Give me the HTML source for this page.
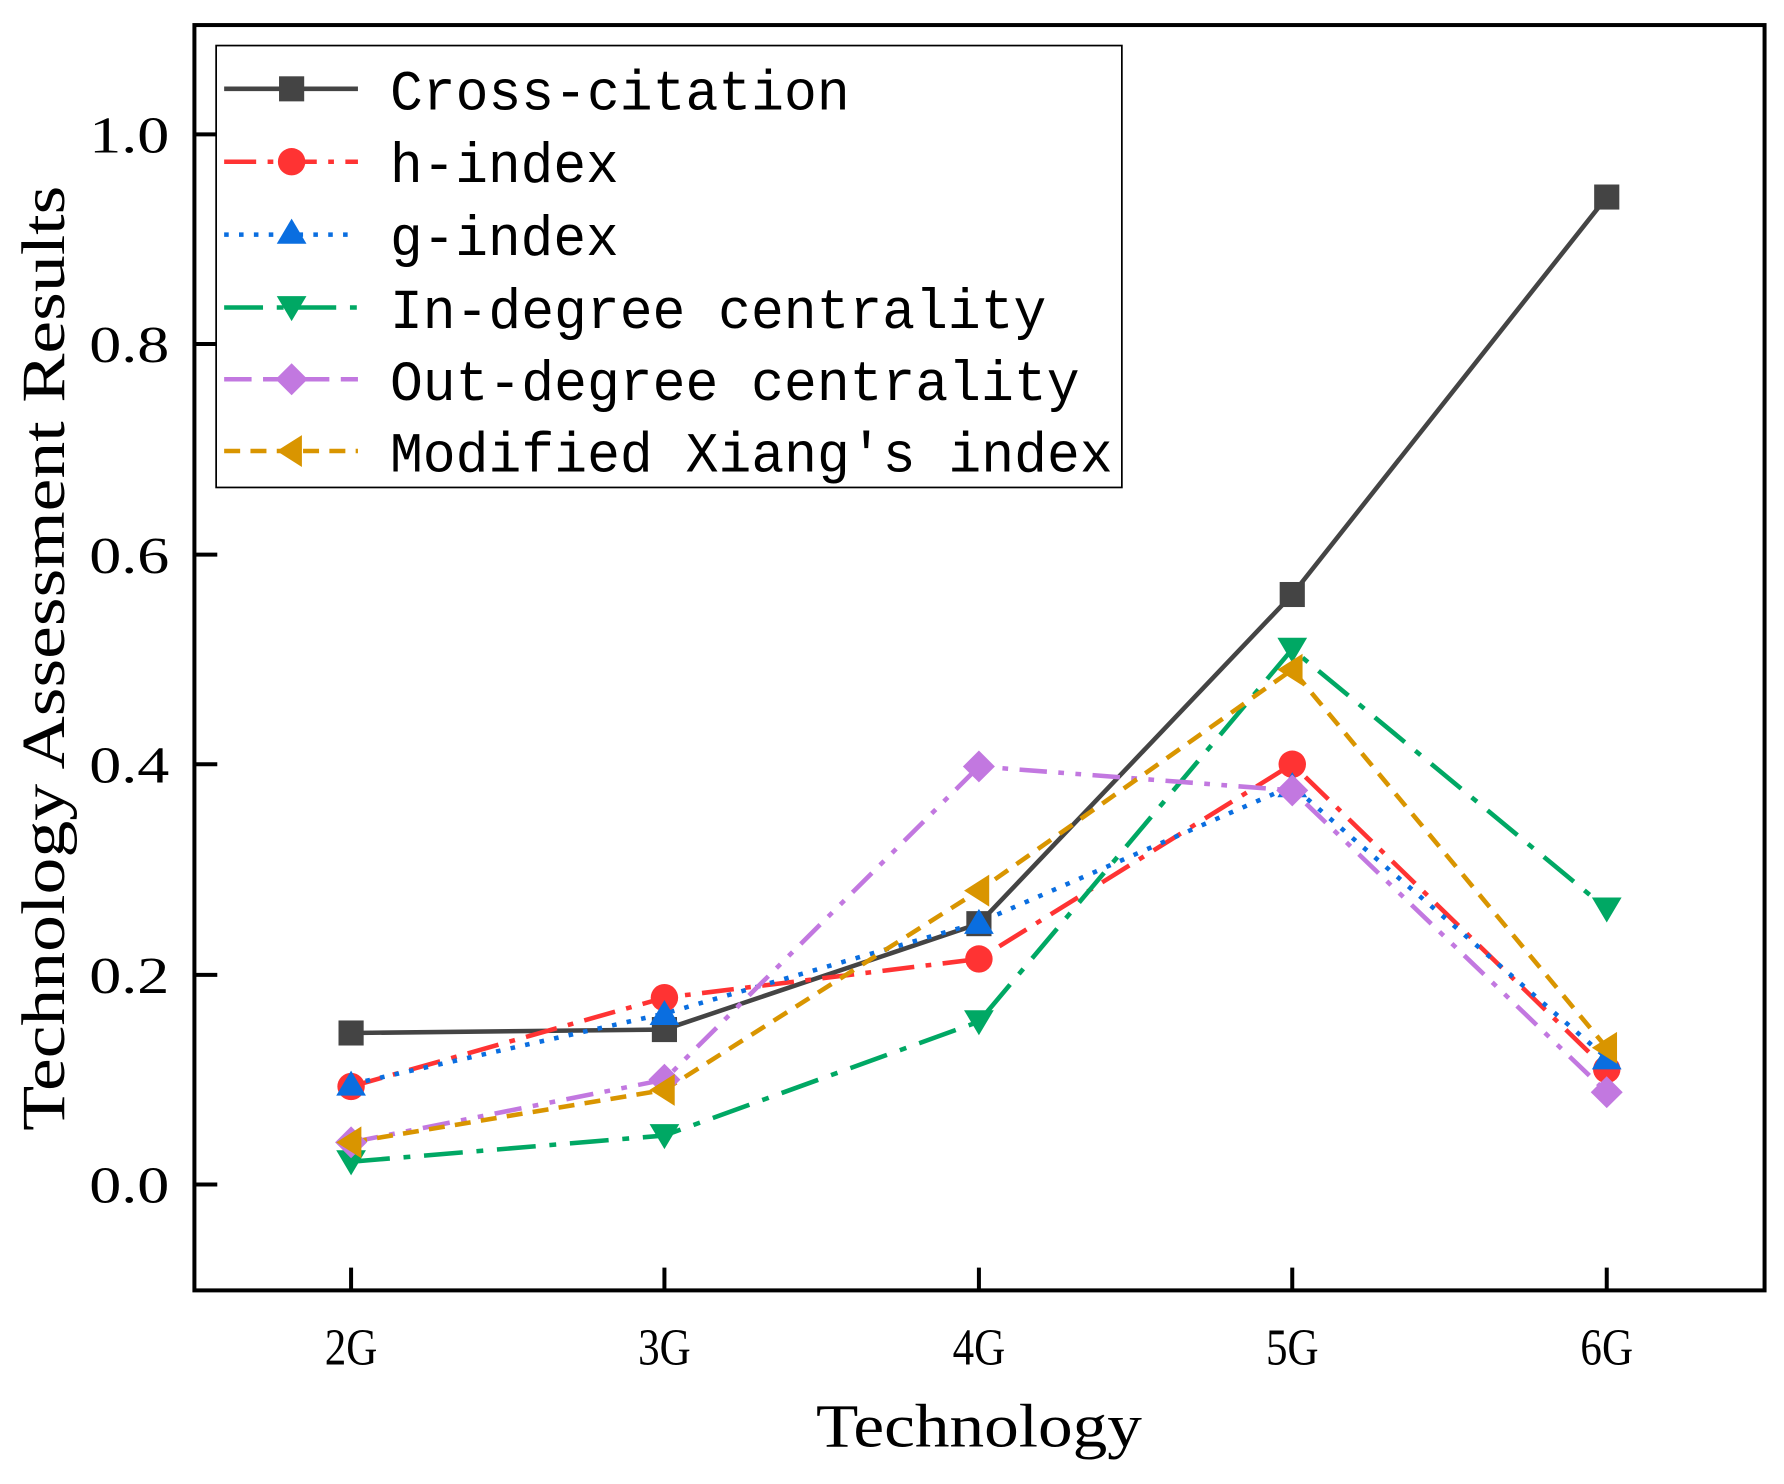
<!DOCTYPE html>
<html><head><style>html,body{margin:0;padding:0;background:#fff}svg{display:block}</style></head>
<body>
<svg width="1784" height="1484" viewBox="0 0 1560 1303" preserveAspectRatio="none" xmlns="http://www.w3.org/2000/svg" font-family="'Liberation Serif', serif">
<rect x="0" y="0" width="1560" height="1303" fill="#fff"/>
<g fill="none" stroke-width="4">
<polyline stroke="#444" points="307,907 581,904 856,811 1130,522 1405,173"/>
<polyline stroke="#f33" stroke-dasharray="28,10,5,10" points="307,954 581,876 856,842 1130,671 1405,939"/>
<polyline stroke="#0a6ee0" stroke-dasharray="4,9" points="307,952 581,890 856,810 1130,690 1405,929"/>
<polyline stroke="#00a864" stroke-dasharray="34,12,6,12" points="307,1020 581,997 856,897 1130,570 1405,798"/>
<polyline stroke="#c278e0" stroke-dasharray="24,10,5,10,5,10" points="307,1003 581,948 856,673 1130,694 1405,959"/>
<polyline stroke="#d99500" stroke-dasharray="14,9" points="307,1003 581,957 856,782 1130,588 1405,920"/>
</g>
<g fill="#444"><rect x="296" y="896" width="22" height="22"/><rect x="570" y="893" width="22" height="22"/><rect x="845" y="800" width="22" height="22"/><rect x="1119" y="511" width="22" height="22"/><rect x="1394" y="162" width="22" height="22"/></g>
<g fill="#f33"><circle cx="307" cy="954" r="12"/><circle cx="581" cy="876" r="12"/><circle cx="856" cy="842" r="12"/><circle cx="1130" cy="671" r="12"/><circle cx="1405" cy="939" r="12"/></g>
<g fill="#0a6ee0"><path d="M307,940 l13,22 h-26z M581,878 l13,22 h-26z M856,798 l13,22 h-26z M1130,678 l13,22 h-26z M1405,917 l13,22 h-26z"/></g>
<g fill="#00a864"><path d="M307,1032 l13,-22 h-26z M581,1009 l13,-22 h-26z M856,909 l13,-22 h-26z M1130,582 l13,-22 h-26z M1405,810 l13,-22 h-26z"/></g>
<g fill="#c278e0"><path d="M307,989 l14,14 -14,14 -14,-14z M581,934 l14,14 -14,14 -14,-14z M856,659 l14,14 -14,14 -14,-14z M1130,680 l14,14 -14,14 -14,-14z M1405,945 l14,14 -14,14 -14,-14z"/></g>
<g fill="#d99500"><path d="M294,1003 l22,-14 v28z M568,957 l22,-14 v28z M843,782 l22,-14 v28z M1117,588 l22,-14 v28z M1392,920 l22,-14 v28z"/></g>
<rect x="170" y="22" width="1373" height="1111" fill="none" stroke="#000" stroke-width="3.5"/>
<g stroke="#000" stroke-width="3.5">
<line x1="307" y1="1133" x2="307" y2="1113"/><line x1="581" y1="1133" x2="581" y2="1113"/><line x1="856" y1="1133" x2="856" y2="1113"/><line x1="1130" y1="1133" x2="1130" y2="1113"/><line x1="1405" y1="1133" x2="1405" y2="1113"/>
<line x1="170" y1="1040" x2="190" y2="1040"/><line x1="170" y1="856" x2="190" y2="856"/><line x1="170" y1="671" x2="190" y2="671"/><line x1="170" y1="487" x2="190" y2="487"/><line x1="170" y1="302" x2="190" y2="302"/><line x1="170" y1="118" x2="190" y2="118"/>
</g>
<g font-size="46" text-anchor="end" lengthAdjust="spacingAndGlyphs">
<text x="148" y="1056" textLength="70" lengthAdjust="spacingAndGlyphs">0.0</text><text x="148" y="872" textLength="70" lengthAdjust="spacingAndGlyphs">0.2</text><text x="148" y="687" textLength="70" lengthAdjust="spacingAndGlyphs">0.4</text><text x="148" y="503" textLength="70" lengthAdjust="spacingAndGlyphs">0.6</text><text x="148" y="318" textLength="70" lengthAdjust="spacingAndGlyphs">0.8</text><text x="148" y="134" textLength="70" lengthAdjust="spacingAndGlyphs">1.0</text>
</g>
<g font-size="46" text-anchor="middle">
<text x="307" y="1198" textLength="46" lengthAdjust="spacingAndGlyphs">2G</text><text x="581" y="1198" textLength="46" lengthAdjust="spacingAndGlyphs">3G</text><text x="856" y="1198" textLength="46" lengthAdjust="spacingAndGlyphs">4G</text><text x="1130" y="1198" textLength="46" lengthAdjust="spacingAndGlyphs">5G</text><text x="1405" y="1198" textLength="46" lengthAdjust="spacingAndGlyphs">6G</text>
</g>
<text x="856" y="1270" font-size="54" text-anchor="middle" textLength="285" lengthAdjust="spacingAndGlyphs">Technology</text>
<text transform="translate(56,578) rotate(-90)" font-size="54" text-anchor="middle" textLength="830" lengthAdjust="spacingAndGlyphs">Technology Assessment Results</text>
<rect x="189" y="40" width="792" height="388" fill="#fff" stroke="#000" stroke-width="1.5"/>
<g stroke-width="4" fill="none">
<line x1="196" y1="78" x2="313" y2="78" stroke="#444"/>
<line x1="196" y1="142" x2="313" y2="142" stroke="#f33" stroke-dasharray="28,10,5,10"/>
<line x1="196" y1="206" x2="313" y2="206" stroke="#0a6ee0" stroke-dasharray="4,9"/>
<line x1="196" y1="270" x2="313" y2="270" stroke="#00a864" stroke-dasharray="34,12,6,12"/>
<line x1="196" y1="333" x2="313" y2="333" stroke="#c278e0" stroke-dasharray="24,10"/>
<line x1="196" y1="396" x2="313" y2="396" stroke="#d99500" stroke-dasharray="14,9"/>
</g>
<rect x="244" y="67" width="22" height="22" fill="#444"/>
<circle cx="255" cy="142" r="12" fill="#f33"/>
<path d="M255,192 l13,22 h-26z" fill="#0a6ee0"/>
<path d="M255,282 l13,-22 h-26z" fill="#00a864"/>
<path d="M255,319 l14,14 -14,14 -14,-14z" fill="#c278e0"/>
<path d="M242,396 l22,-14 v28z" fill="#d99500"/>
<g font-family="'Liberation Mono', monospace" font-size="50">
<text x="341" y="96" textLength="402" lengthAdjust="spacingAndGlyphs">Cross-citation</text>
<text x="341" y="160" textLength="200" lengthAdjust="spacingAndGlyphs">h-index</text>
<text x="341" y="224" textLength="200" lengthAdjust="spacingAndGlyphs">g-index</text>
<text x="341" y="288" textLength="574" lengthAdjust="spacingAndGlyphs">In-degree centrality</text>
<text x="341" y="351" textLength="603" lengthAdjust="spacingAndGlyphs">Out-degree centrality</text>
<text x="341" y="414" textLength="632" lengthAdjust="spacingAndGlyphs">Modified Xiang's index</text>
</g>
</svg>
</body></html>
